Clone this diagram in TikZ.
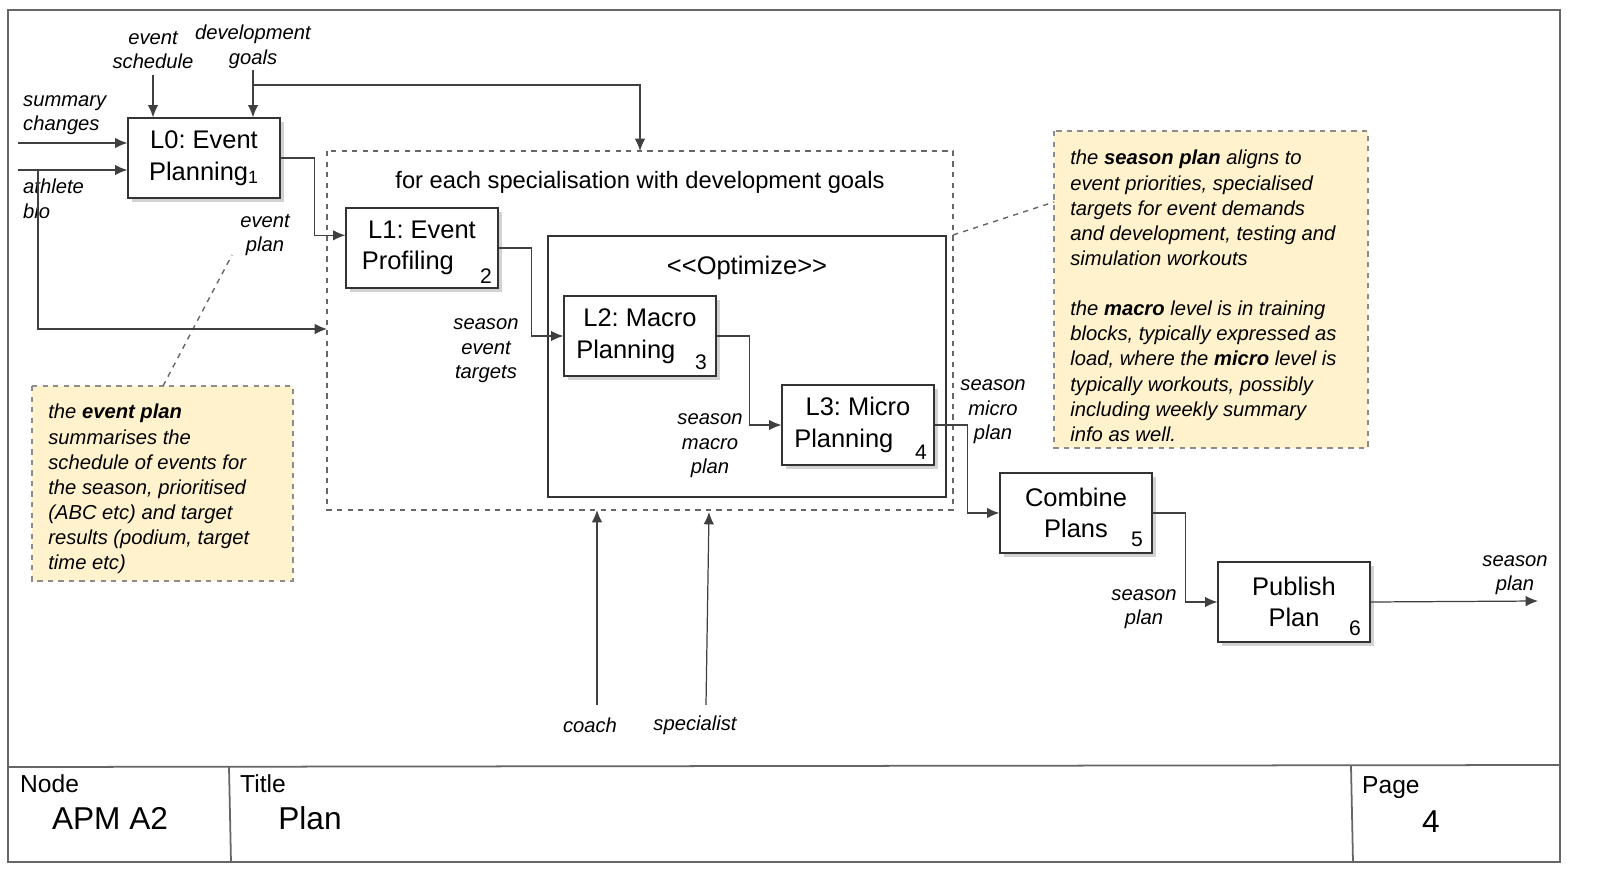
\documentclass[tikz,border=0pt]{standalone}
\usepackage{fontspec}
\setmainfont{Liberation Sans}
\usetikzlibrary{shadows,calc,arrows.meta}
\definecolor{notefill}{HTML}{FFF2CC}
\definecolor{framegray}{HTML}{666666}
\frenchspacing
\begin{document}
\begin{tikzpicture}[x=0.02cm,y=-0.02cm,
  box/.style={draw=black!80,fill=white,line width=0.8pt,minimum width=3.04cm,minimum height=1.6cm,align=center,font=\fontsize{14.5}{18}\selectfont,drop shadow={opacity=0.35,shadow xshift=2pt,shadow yshift=-2pt}},
  num/.style={font=\fontsize{12}{14}\selectfont},
  lab/.style={font=\fontsize{11.5}{14}\itshape\selectfont,align=center},
  arr/.style={draw=black!75,line width=0.7pt,-{Latex[length=7pt,width=6pt]}},
  note/.style={draw=black!45,dashed,fill=notefill,line width=0.8pt},
  notetxt/.style={font=\fontsize{11.5}{14.3}\itshape\selectfont,align=left,anchor=north west,inner sep=0pt}]
\fill[white] (0,0) rectangle (1600,889);
% frame
\draw[framegray,line width=1pt] (8,10) rectangle (1560,862);
\draw[framegray,line width=1pt] (8,767) -- (1560,765);
\draw[framegray,line width=1pt] (229,767) -- (231,862);
\draw[framegray,line width=1pt] (1351,766) -- (1353,862);
\node[anchor=west,font=\fontsize{14}{16}\selectfont] (nodeh) at (14,784) {Node};
\node[font=\fontsize{18}{20}\selectfont] (nodev) at (110,818) {APM A2};
\node[anchor=west,font=\fontsize{14}{16}\selectfont] (titleh) at (234,784) {Title};
\node[font=\fontsize{18}{20}\selectfont] (titlev) at (310,818) {Plan};
\node[anchor=west,font=\fontsize{14}{16}\selectfont] (pageh) at (1356,788) {Page};
\node[font=\fontsize{18}{20}\selectfont] (pagev) at (1431,822) {4};
% containers
\draw[black!60,dashed,line width=0.8pt] (327,151) rectangle (953,510);
\node[font=\fontsize{13.5}{16}\selectfont] (fe) at (640,182) {for each specialisation with development goals};
\node[draw=black!80,line width=0.8pt,minimum width=7.96cm,minimum height=5.22cm] (opt) at (747,366.5) {};
\node[font=\fontsize{14.5}{18}\selectfont] (optt) at (747,268) {<{}<Optimize>{}>};
% notes
\draw[note] (32,386) rectangle (293,581);
\node[notetxt] (n1) at (48,404) {the \textbf{event plan}\\summarises the\\schedule of events for\\the season, prioritised\\(ABC etc) and target\\results (podium, target\\time etc)};
\draw[note] (1054,131) rectangle (1368,448);
\node[notetxt] (n2) at (1070,150) {the \textbf{season plan} aligns to\\event priorities, specialised\\targets for event demands\\and development, testing and\\simulation workouts\\[14.3pt]the \textbf{macro} level is in training\\blocks, typically expressed as\\load, where the \textbf{micro} level is\\typically workouts, possibly\\including weekly summary\\info as well.};
\draw[black!60,dashed,line width=0.8pt] (163,386) -- (232,255);
\draw[black!60,dashed,line width=0.8pt] (953,235) -- (1054,202);
% boxes
\node[box] (L0) at (204,158) {L0: Event\\Planning\textsubscript{1}};
\node[box] (L1) at (422,248) {L1: Event\\Profiling\phantom{00}};
\node[num] at (486,276) {2};
\node[box] (L2) at (640,336) {L2: Macro\\Planning\phantom{00}};
\node[num] at (701,362) {3};
\node[box] (L3) at (858,425) {L3: Micro\\Planning\phantom{00}};
\node[num] at (921,452) {4};
\node[box] (L5) at (1076,513) {Combine\\Plans};
\node[num] at (1137,539) {5};
\node[box] (L6) at (1294,602) {Publish\\Plan};
\node[num] at (1355,628) {6};
% inputs
\coordinate (es) at (153,75);
\coordinate (dg) at (253,70);
\coordinate (sc) at (18,143);
\coordinate (ab) at (18,170);
\coordinate (co) at (597,705);
\coordinate (sp) at (706,705);
\coordinate (out) at (1538,601);
\node[lab] at (153,50) {event\\schedule};
\node[lab] at (253,47) {development\\goals};
\node[lab,align=left,anchor=west] at (17,115) {summary\\changes};
\node[lab,align=left,anchor=west] at (17,199) {athlete\\bio};
\draw[arr] (es) -- (es|-L0.north);
\draw[arr] (dg) -- (dg|-L0.north);
\draw[arr] (253,85) -- (640,85) -- (640,151);
\draw[arr] (sc) -- (sc-|L0.west);
\draw[arr] (ab) -- (ab-|L0.west);
\draw[arr] (38,170) -- (38,329) -- (327,329);
\draw[arr] (L0.east) -- ++(34,0) |- ($(L1.north west)+(0,28)$);
\node[lab] at (265,235) {event\\plan};
\draw[arr] (L1.east) -- ++(33,0) |- (L2.west);
\node[lab] at (486,351) {season\\event\\targets};
\draw[arr] (L2.east) -- ++(33,0) |- (L3.west);
\node[lab] at (710,446) {season\\macro\\plan};
\draw[arr] (L3.east) -- ++(33,0) |- (L5.west);
\node[lab] at (993,412) {season\\micro\\plan};
\draw[arr] (L5.east) -- ++(33,0) |- (L6.west);
\node[lab] at (1144,609) {season\\plan};
\draw[arr] (L6.east) -- (out);
\node[lab] at (1515,575) {season\\plan};
\draw[arr] (co) -- (597,510);
\node[lab] at (590,725) {coach};
\draw[arr] (sp) -- (709,512);
\node[lab] at (695,725) {specialist};
\pgfresetboundingbox
\useasboundingbox (0,0) rectangle (1600,889);
\end{tikzpicture}
\end{document}
